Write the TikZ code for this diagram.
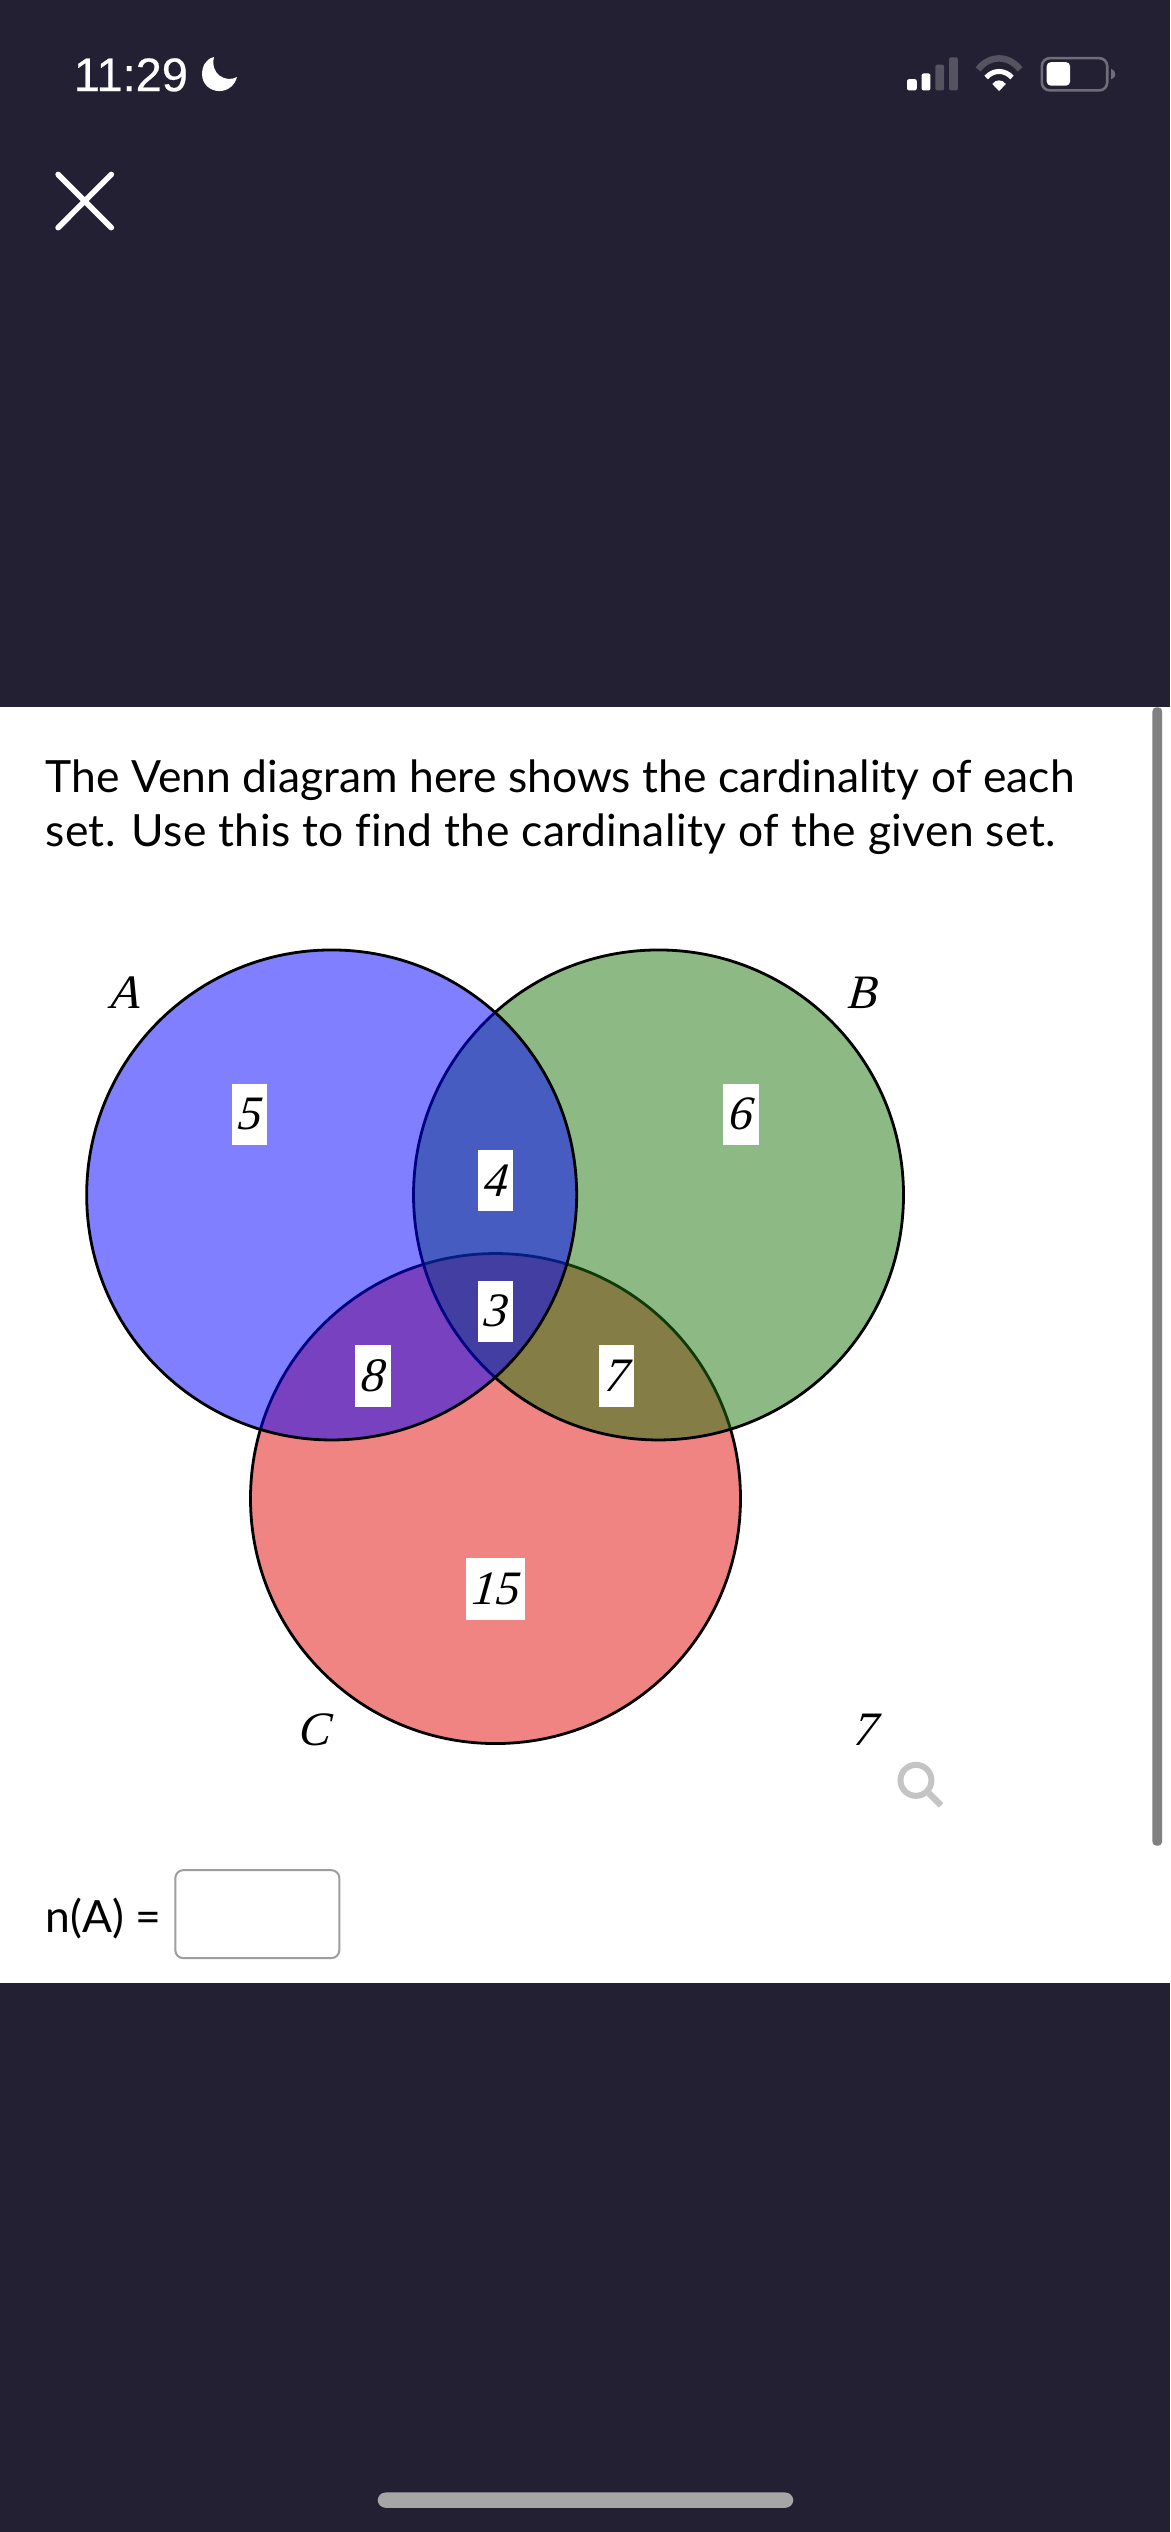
\documentclass[tikz,border=0pt]{standalone}
\usepackage{fontspec}
\setmainfont{Lato}[Ligatures=CommonOff]
\newfontface\digititalic{Liberation Serif Italic}[FakeSlant=0.1]
\newfontfamily\statusfont{Liberation Sans}[FakeBold=0.5]
\usetikzlibrary{shapes,arrows,positioning}
\definecolor{darkbg}{HTML}{232033}
\definecolor{setblue}{RGB}{0,0,255}
\definecolor{setgreen}{RGB}{29,119,11}
\definecolor{setred}{RGB}{225,11,7}
\definecolor{dimicon}{HTML}{55535F}
\definecolor{batteryrim}{HTML}{6F6D78}
\tikzstyle{setcircle} = [circle, draw=black, line width=1.4pt, minimum size=245pt, inner sep=0pt, fill opacity=0.5]
\tikzstyle{numbox} = [fill=white, inner sep=0pt, minimum width=17.8pt, minimum height=30.7pt, font=\digititalic\fontsize{24}{24}\selectfont]
\tikzstyle{setname} = [inner sep=0pt, font=\digititalic\fontsize{24}{24}\selectfont]
\tikzstyle{bodytext} = [anchor=base west, inner sep=0pt, font=\fontsize{22.2}{27}\selectfont]
\begin{document}
\begin{tikzpicture}[x=0.807pt, y=-0.8074pt]
\useasboundingbox (0,0) rectangle (725,1568);
\fill[darkbg] (0,0) rectangle (725,1568);
\fill[white] (0,438) rectangle (725,1228);
% status bar
\node[anchor=base west, inner sep=0pt, text=white, font=\statusfont\fontsize{23.5}{24}\selectfont] (clock) at (45.5,56.4) {11:29};
\fill[white] (132.6,35.3) .. controls (127.5,36.5) and (125.2,41) .. (125.2,46) .. controls (125.2,52) and (130,56.4) .. (136,56.4) .. controls (141,56.4) and (145.5,53) .. (146.8,47.7) .. controls (140,51.5) and (130,46) .. (132.6,35.3) -- cycle;
\fill[white, rounded corners=1pt] (562,49) rectangle (568,56);
\fill[white, rounded corners=1pt] (571,45.5) rectangle (576.5,56);
\fill[dimicon, rounded corners=1pt] (579.5,40) rectangle (585,56);
\fill[dimicon, rounded corners=1pt] (588,35.5) rectangle (593.5,56);
\draw[dimicon, line width=3.25pt] (606,43) .. controls (613,33.9) and (625,33.9) .. (632,43);
\draw[white, line width=2.5pt] (611,48) .. controls (615.5,43) and (622.5,43) .. (627,48);
\fill[white] (614.8,52) .. controls (617,49) and (621,49) .. (623.2,52) -- (619,56.4) -- cycle;
\draw[batteryrim, line width=1.3pt, rounded corners=4pt] (645.5,36) rectangle (686,56);
\fill[white, rounded corners=2pt] (648.5,38.5) rectangle (663,53);
\fill[batteryrim] (688.4,42.7) .. controls (690.5,43.5) and (691,45) .. (691,46) .. controls (691,47) and (690.5,48.5) .. (688.4,49) -- cycle;
% close button
\coordinate (xa) at (36,108);
\coordinate (xb) at (69,141);
\coordinate (xc) at (69,108);
\coordinate (xd) at (36,141);
\draw[white, line width=2.8pt, line cap=round] (xa) -- (xb) (xc) -- (xd);
% question
\node[bodytext] (lineone) at (28,491) {\addfontfeature{LetterSpace=0.15}The Venn diagram here shows the cardinality of each};
\node[bodytext] (linetwo) at (28,524) {\addfontfeature{LetterSpace=1}set. Use this to find the cardinality of the given set.};
% sets
\node[setcircle, fill=setred] (setC) at (307,928) {};
\node[setcircle, fill=setgreen] (setB) at (408,740) {};
\node[setcircle, fill=setblue] (setA) at (205.5,740) {};
\node[numbox] (five) at (154.5,690) {5};
\node[numbox] (six) at (459,690) {6};
\node[numbox] (four) at (307,731) {4};
\node[numbox] (three) at (307,812) {3};
\node[numbox] (eight) at (231,852) {8};
\node[numbox] (seven) at (382,852) {7};
\node[numbox, minimum width=29.9pt] (fifteen) at (307,984) {15};
\node[setname] (nameA) at (77.5,615) {A};
\node[setname] (nameB) at (534,615) {B};
\node[setname] (nameC) at (195,1071) {C};
\node[setname] (outside) at (536,1071) {7};
% magnifier
\node[circle, draw=black!23, line width=3pt, minimum size=15.5pt, inner sep=0pt] (lens) at (567.5,1102.5) {};
\coordinate (handle) at (583,1118);
\draw[black!23, line width=3.2pt] (lens.south east) -- (handle);
% answer row
\node[bodytext] (answer) at (28,1197) {n(A) =};
\node[draw=black!38, line width=1pt, rounded corners=4pt, minimum width=82pt, minimum height=44pt, inner sep=0pt, anchor=north west] (inputbox) at (108,1157.5) {};
% scrollbar, home bar
\fill[black!50, rounded corners=2pt] (714,438) rectangle (720,1143);
\fill[black!35, rounded corners=4pt] (234,1543.5) rectangle (491.5,1553);
\end{tikzpicture}
\end{document}
